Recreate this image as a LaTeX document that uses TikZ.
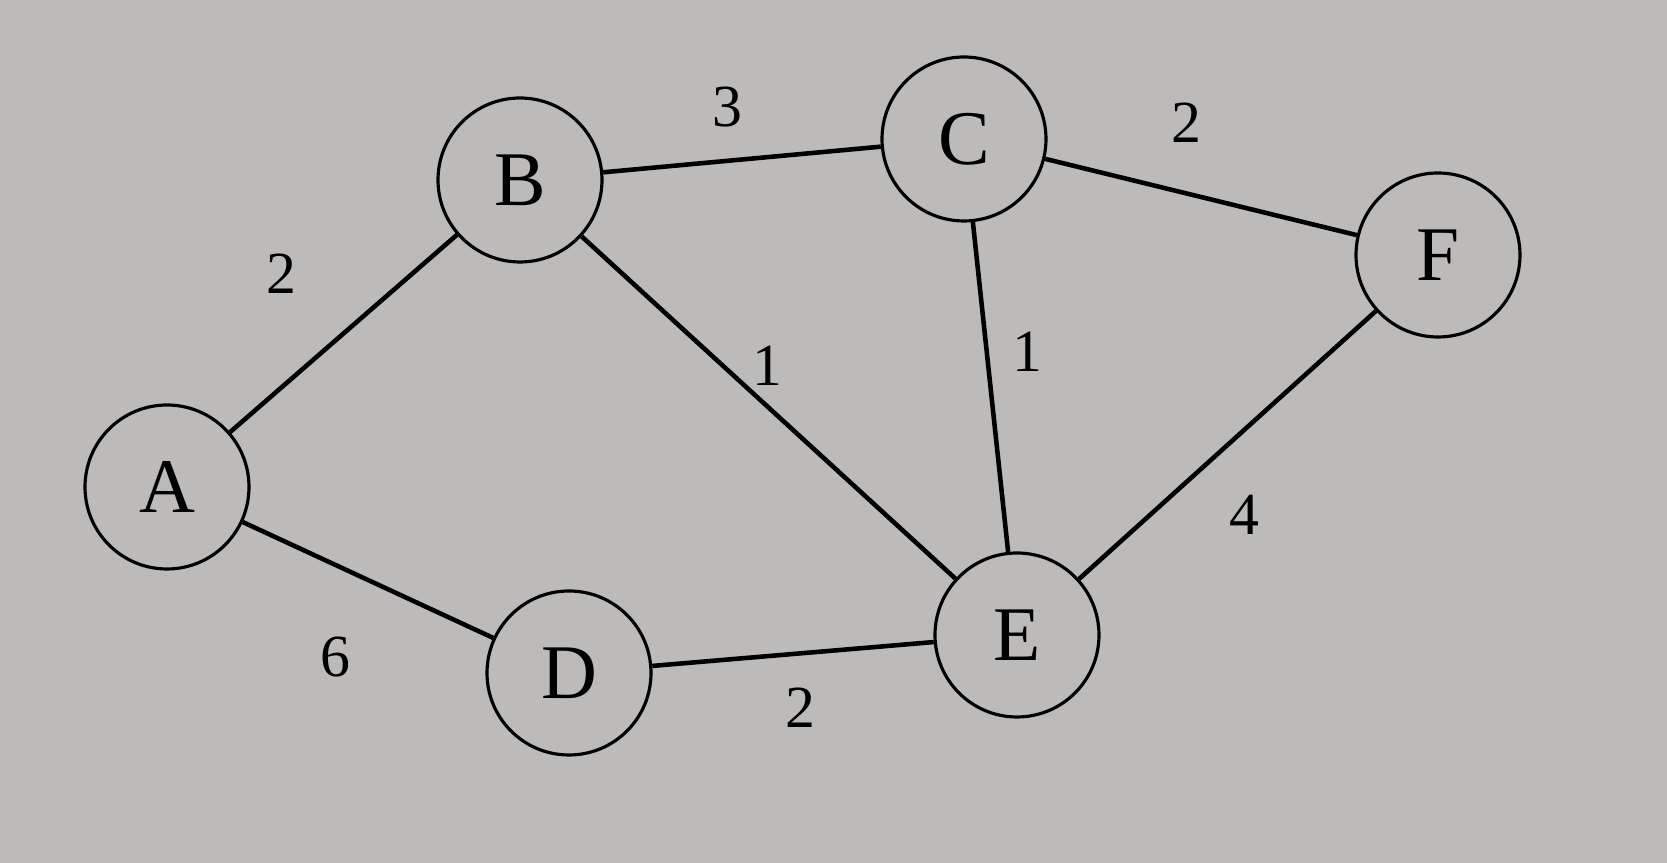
\documentclass[tikz,border=0pt]{standalone}
\usepackage{fontspec}
\setmainfont{Liberation Serif}
\usetikzlibrary{positioning}
\definecolor{paper}{HTML}{BDBBB9}
\begin{document}
\begin{tikzpicture}
	\fill[paper] (0,0) rectangle (16.67,8.63);
	\useasboundingbox (0,0) rectangle (16.67,8.63);
	\begin{scope}[every node/.style={circle,draw,line width=0.9pt,minimum size=1.64cm,inner sep=0pt,font=\fontsize{22}{22}\selectfont}]
		\node (A) at (1.67,3.76) {A};
		\node (B) at (5.20,6.83) {B};
		\node (C) at (9.64,7.24) {C};
		\node (F) at (14.38,6.08) {F};
		\node (D) at (5.69,1.90) {D};
		\node (E) at (10.17,2.28) {E};
	\end{scope}
	
	\begin{scope}[every edge/.style={draw=black,line width=1.3pt},every node/.style={font=\fontsize{17}{17}\selectfont,inner sep=0pt}]
		\path (A) edge node [above left=0.38cm and 0.45cm] {2} (B);
		\path (B) edge node [above=0.3cm,xshift=-0.15cm] {3} (C);
		\path (C) edge node [above=0.52cm,xshift=-0.15cm] {2} (F);
		\path (B) edge node [above right=0.2cm and -0.18cm] {1} (E);
		\path (C) edge node [right=0.2cm,yshift=0.35cm] {1} (E);
		\path (E) edge node [below right=0.48cm and 0.0cm] {4} (F);
		\path (A) edge node [below left=0.55cm and 0.15cm] {6} (D);
		\path (D) edge node [below=0.32cm,xshift=0.07cm] {2} (E);
	\end{scope}
\end{tikzpicture}
\end{document}
